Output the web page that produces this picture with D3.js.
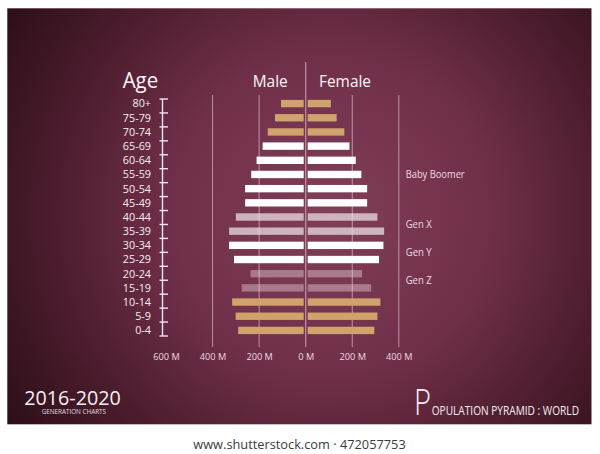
<!DOCTYPE html>
<html>
<head>
<meta charset="utf-8">
<script src="https://cdn.jsdelivr.net/npm/d3@7"></script>
<style>
html,body{margin:0;padding:0;background:#fff;}
svg{display:block;}
text{font-family:"Open Sans","Noto Sans",sans-serif;}
</style>
</head>
<body>
<svg id="chart" width="600" height="454"></svg>
<script>
// ---- data ----
const ages = ["80+","75-79","70-74","65-69","60-64","55-59","50-54","45-49","40-44","35-39","30-34","25-29","20-24","15-19","10-14","5-9","0-4"];
const male   = [106,132,163,185,211,234,260,260,300,329,329,308,237,275,316,301,290];
const female = [108,133,166,188,215,239,264,264,308,337,334,315,242,281,321,308,295];
const generation = ["other","other","other","boomer","boomer","boomer","boomer","boomer","genx","genx","geny","geny","genz","genz","other","other","other"];
const genLabels = [
  {key:"boomer", label:"Baby Boomer"},
  {key:"genx", label:"Gen X"},
  {key:"geny", label:"Gen Y"},
  {key:"genz", label:"Gen Z"}
];
const maleTicks = [600,400,200,0];
const femaleTicks = [200,400];

// ---- drawing ----
const svg = d3.select("#chart");
const defs = svg.append("defs");
const grad = defs.append("radialGradient").attr("id","bg")
  .attr("gradientUnits","userSpaceOnUse").attr("cx",330).attr("cy",215).attr("r",390);
[[0,"#803e59"],[0.4,"#71304a"],[0.72,"#4b1c2d"],[1,"#2a0e17"]].forEach(s=>
  grad.append("stop").attr("offset",s[0]).attr("stop-color",s[1]));

svg.append("rect").attr("x",7.3).attr("y",8.3).attr("width",584.2).attr("height",416)
  .attr("fill","url(#bg)");

const y = d3.scaleBand().domain(ages).range([96.5,337.5]).paddingInner(0.48).paddingOuter(0.24);
const xM = d3.scaleLinear().domain([0,600]).range([305.7,166]);
const xF = d3.scaleLinear().domain([0,400]).range([305.7,398.8]);
const gap = 2;

const color = d3.scaleOrdinal()
  .domain(["other","boomer","genx","geny","genz"])
  .range(["#d0a36c","#ffffff","rgba(245,238,242,0.68)","#ffffff","rgba(235,215,225,0.42)"]);

const gridColor = "rgba(232,205,218,0.62)";
// grid lines
const grid = svg.append("g");
[...maleTicks.filter(d=>d>0&&d<600).map(d=>xM(d)), ...femaleTicks.map(d=>xF(d))].forEach(x=>{
  grid.append("line").attr("x1",x).attr("x2",x).attr("y1",95).attr("y2",347)
    .attr("stroke",gridColor).attr("stroke-width",1);
});
grid.append("line").attr("x1",xM(0)).attr("x2",xM(0)).attr("y1",62).attr("y2",347)
  .attr("stroke",gridColor).attr("stroke-width",1.2);

// bars
const rows = ages.map((a,i)=>({age:a, m:male[i], f:female[i], g:generation[i]}));
svg.append("g").selectAll("rect").data(rows).join("rect")
  .attr("x",d=>xM(d.m)).attr("y",d=>y(d.age))
  .attr("width",d=>xM(0)-gap-xM(d.m)).attr("height",y.bandwidth())
  .attr("fill",d=>color(d.g));
svg.append("g").selectAll("rect").data(rows).join("rect")
  .attr("x",xF(0)+gap).attr("y",d=>y(d.age))
  .attr("width",d=>xF(d.f)-xF(0)-gap).attr("height",y.bandwidth())
  .attr("fill",d=>color(d.g));

// age axis
const step = y.step();
const tickY = d3.scaleLinear().domain([0,ages.length]).range([99,336]);
const ax = svg.append("g").attr("stroke","#f3e6ec").attr("stroke-width",1.4);
ax.append("line").attr("x1",162.5).attr("x2",162.5).attr("y1",tickY(0)).attr("y2",tickY(ages.length));
ax.selectAll("line.t").data(d3.range(ages.length+1)).join("line").attr("class","t")
  .attr("x1",159.5).attr("x2",168).attr("y1",d=>tickY(d)).attr("y2",d=>tickY(d));

svg.append("g").selectAll("text").data(ages).join("text")
  .attr("x",151).attr("y",d=>y(d)+y.bandwidth()/2+3.9)
  .attr("text-anchor","end").attr("font-size",10.8).attr("fill","#f6eef2")
  .text(d=>d);

// bottom axes
const axM = svg.append("g").attr("transform","translate(0,347)")
  .call(d3.axisBottom(xM).tickValues(maleTicks).tickSize(0).tickPadding(6).tickFormat(d=>d+" M"));
const axF = svg.append("g").attr("transform","translate(0,347)")
  .call(d3.axisBottom(xF).tickValues(femaleTicks).tickSize(0).tickPadding(6).tickFormat(d=>d+" M"));
[axM,axF].forEach(g=>{
  g.select(".domain").remove();
  g.selectAll("text").attr("font-size",9.2).attr("fill","#ecd8e0")
    .attr("font-family","'Open Sans','Noto Sans',sans-serif");
});

// generation labels
genLabels.forEach(gl=>{
  const idx = generation.map((g,i)=>g===gl.key?i:-1).filter(i=>i>=0);
  const mid = (y(ages[idx[0]]) + y(ages[idx[idx.length-1]]) + y.bandwidth())/2;
  svg.append("text").attr("x",405.7).attr("y",mid+3.5)
    .attr("font-size",10.8).attr("fill","#f0dbe3")
    .attr("textLength", gl.key==="boomer"?59:26).attr("lengthAdjust","spacingAndGlyphs")
    .text(gl.label);
});

// titles
svg.append("text").attr("x",122.7).attr("y",88).attr("font-size",21).attr("fill","#fbf5f7")
  .attr("textLength",35.5).attr("lengthAdjust","spacingAndGlyphs").text("Age");
svg.append("text").attr("x",252.7).attr("y",86.7).attr("font-size",15.6).attr("fill","#fbf5f7")
  .attr("textLength",35).attr("lengthAdjust","spacingAndGlyphs").text("Male");
svg.append("text").attr("x",319).attr("y",86.7).attr("font-size",15.6).attr("fill","#fbf5f7")
  .attr("textLength",52).attr("lengthAdjust","spacingAndGlyphs").text("Female");

// footer
svg.append("text").attr("x",24.3).attr("y",405).attr("font-size",20.5).attr("fill","#f7f0f3")
  .attr("textLength",96.4).attr("lengthAdjust","spacingAndGlyphs").text("2016-2020");
svg.append("text").attr("x",41.7).attr("y",414.3).attr("font-size",6.2).attr("fill","#e8dde1")
  .attr("textLength",64.3).attr("lengthAdjust","spacingAndGlyphs").text("GENERATION CHARTS");
svg.append("text").attr("x",414).attr("y",415).attr("font-size",37).attr("font-weight",300).attr("fill","#f7f0f3")
  .attr("textLength",17).attr("lengthAdjust","spacingAndGlyphs").text("P");
svg.append("text").attr("x",431.7).attr("y",415).attr("font-size",12).attr("fill","#f7f0f3")
  .attr("textLength",147.3).attr("lengthAdjust","spacingAndGlyphs").text("OPULATION PYRAMID : WORLD");

svg.append("text").attr("x",193.3).attr("y",449).attr("font-size",12.6).attr("fill","#3b3b3b")
  .attr("textLength",212.4).attr("lengthAdjust","spacingAndGlyphs").text("www.shutterstock.com · 472057753");
</script>
</body>
</html>
